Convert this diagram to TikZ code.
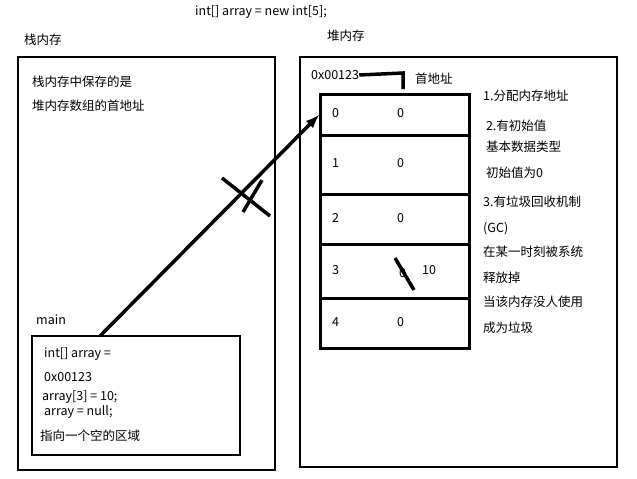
\documentclass[tikz,border=0pt]{standalone}
\usepackage{fontspec}
\setmainfont{Noto Sans CJK SC}
\usetikzlibrary{positioning}
\begin{document}
\begin{tikzpicture}[x=1pt,y=-1pt,>=latex,font=\fontsize{12.5}{14}\selectfont]
\tikzset{frame/.style={draw, line width=2.6pt},
        cell/.style={draw, line width=3pt, minimum width=149pt, inner sep=0pt},
        txt/.style={anchor=west, inner sep=0pt},
        stroke/.style={line width=3.5pt}}
\useasboundingbox (0,0) rectangle (637,479);
\node[txt] (title) at (195,12) {int[] array = new int[5];};
% stack
\node[txt] (stacklbl) at (24,40) {栈内存};
\draw[frame] (18,57) rectangle (275,470);
\node[txt] (s1) at (32,82) {栈内存中保存的是};
\node[txt] (s2) at (32,106) {堆内存数组的首地址};
\node[txt] (mainlbl) at (36,320) {main};
\draw[frame] (32,336) rectangle (240,455);
\coordinate (ptr) at (100,336);
\node[txt] (m1) at (44,354) {int[] array =};
\node[txt] (m2) at (44,377) {0x00123};
\node[txt] (m3) at (42,397) {array[3] = 10;};
\node[txt] (m4) at (44,412) {array = null;};
\node[txt] (m5) at (40,436) {指向一个空的区域};
% heap
\node[txt] (heaplbl) at (327,36) {堆内存};
\draw[frame] (300,57) rectangle (617,467);
\node[txt] (addr) at (311,75) {0x00123};
\node[txt] (first) at (415,79) {首地址};
\draw[stroke] (addr.east) -- (403,73) -- (403,89);
\foreach \i/\t/\h/\v in {0/93/41/0, 1/134/59/0, 2/193/50/0, 3/243/54/, 4/297/50/0}{
  \node[cell, minimum height=\h pt, anchor=north west] (c\i) at (319,\t) {};
  \node[txt] at (332,\t+0.5*\h) {\i};
  \node[txt] at (397,\t+0.5*\h) {\v};
}
\node[txt] (old) at (399,273) {0};
\node[txt] (ten) at (422,270) {10};
\draw[stroke] (395,258) -- (414,290);
% notes
\foreach \y/\t in {96/1.分配内存地址, 126/{\ 2.有初始值}, 147/{\ 基本数据类型}, 173/{\ 初始值为0},
  202/3.有垃圾回收机制, 229/(GC), 252/在某一时刻被系统, 278/释放掉, 302/当该内存没人使用, 328/成为垃圾}
  \node[txt] at (483,\y) {\t};
% pointer
\draw[->, line width=3.5pt] (ptr) -- (c0.west);
\draw[stroke] (222,178) -- (270,216);
\draw[stroke] (243,212) -- (262,180);
\end{tikzpicture}
\end{document}
